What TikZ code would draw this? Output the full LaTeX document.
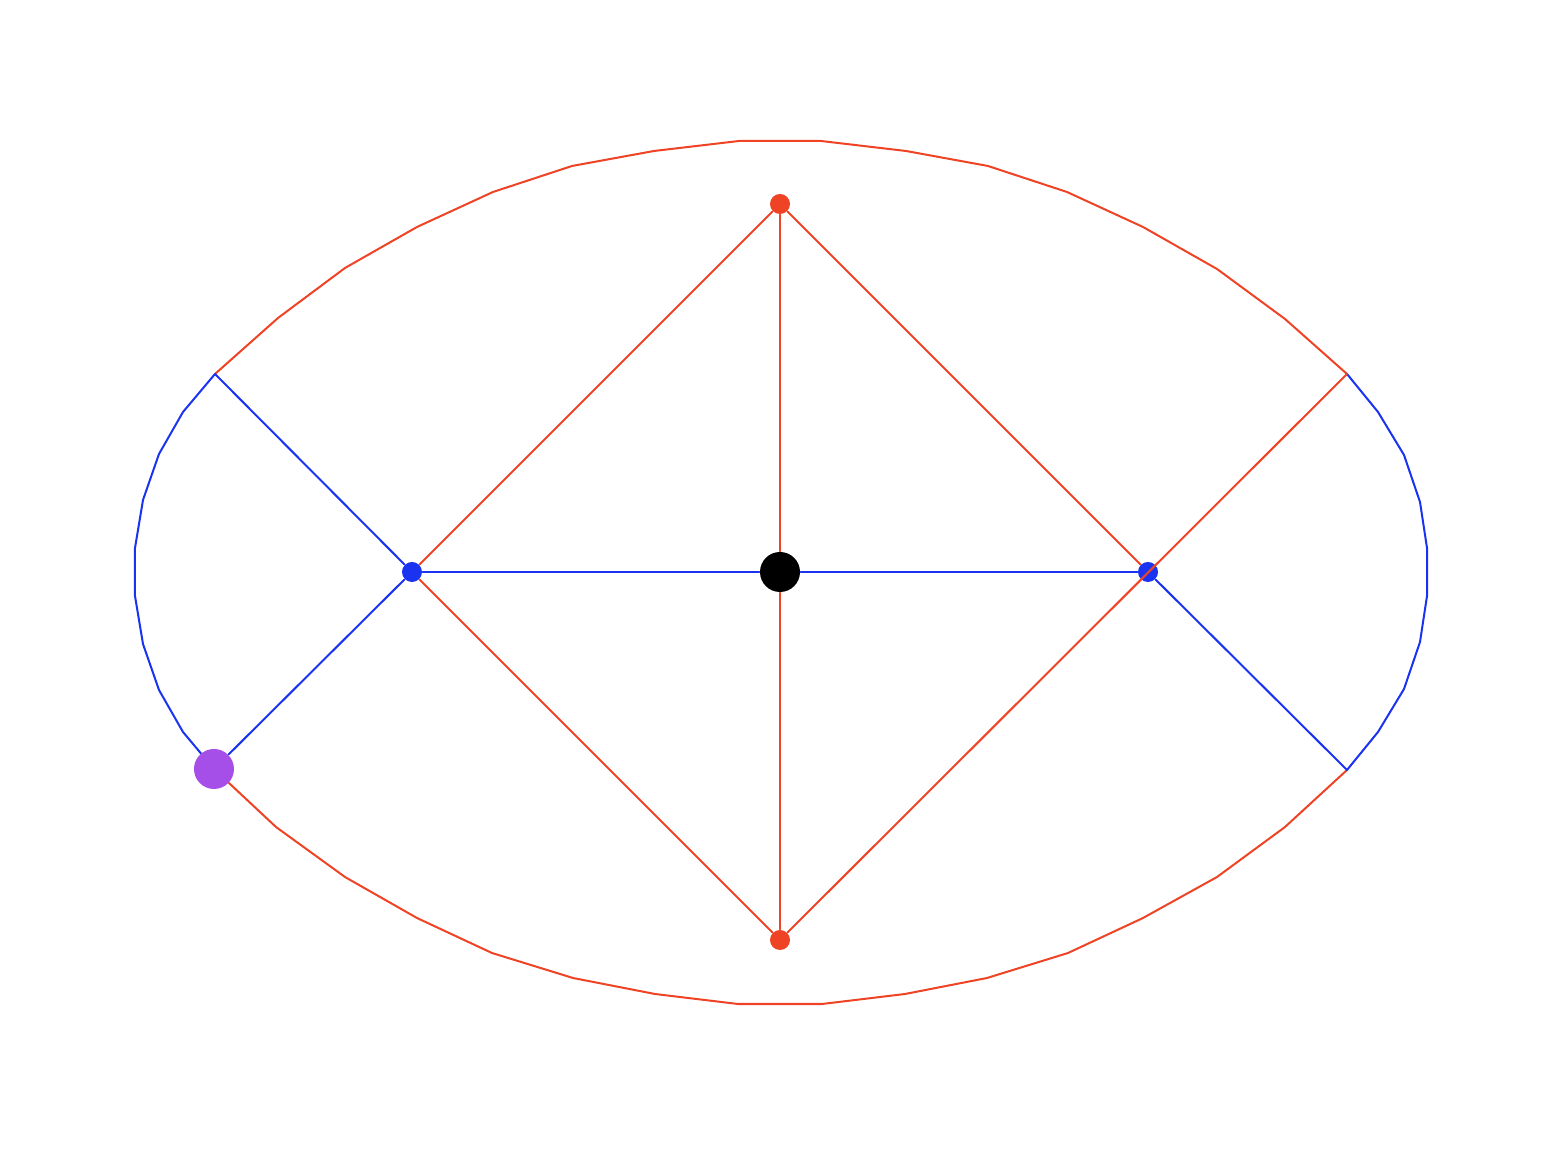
\documentclass[tikz,border=0pt]{standalone}
\usepackage{xcolor}
\usepackage{tikz}
\definecolor{edgered}{HTML}{EE4324}
\definecolor{edgeblue}{HTML}{1A33F0}
\definecolor{dotpurple}{HTML}{A64FE8}
\begin{document}
\begin{tikzpicture}[line cap=round,line join=round,x=1.0cm,y=1.0cm,
  redline/.style={color=edgered,line width=0.57pt},
  blueline/.style={color=edgeblue,line width=0.57pt},
  dot/.style={circle,inner sep=0pt,minimum size=0.2cm},
  bigdot/.style={circle,inner sep=0pt,minimum size=0.4cm}]
\useasboundingbox (-7.80,-6.04) rectangle (7.88,5.72);
% corners of the outer curve
\coordinate (tl) at (-5.65,1.98);
\coordinate (tr) at (5.67,1.98);
\coordinate (br) at (5.67,-1.98);
\node[bigdot] (p) at (-5.66,-1.97) {};
% outer curve
\draw[redline] (tl) -- (-5.02,2.54) -- (-4.35,3.04) -- (-3.63,3.45) -- (-2.87,3.80) -- (-2.08,4.06) -- (-1.26,4.21) -- (-0.41,4.31) -- (0.41,4.31) -- (1.26,4.21) -- (2.08,4.06) -- (2.87,3.80) -- (3.63,3.45) -- (4.37,3.03) -- (5.05,2.53) -- (tr);
\draw[redline] (p.center) -- (-5.04,-2.55) -- (-4.35,-3.05) -- (-3.63,-3.46) -- (-2.88,-3.81) -- (-2.07,-4.06) -- (-1.25,-4.22) -- (-0.42,-4.32) -- (0.42,-4.32) -- (1.25,-4.22) -- (2.07,-4.06) -- (2.88,-3.81) -- (3.63,-3.46) -- (4.37,-3.05) -- (5.05,-2.55) -- (br);
\draw[blueline] (tl) -- (-5.97,1.60) -- (-6.21,1.18) -- (-6.37,0.72) -- (-6.45,0.24) -- (-6.45,-0.24) -- (-6.37,-0.72) -- (-6.21,-1.18) -- (-5.97,-1.60) -- (p.center);
\draw[blueline] (tr) -- (5.98,1.60) -- (6.24,1.17) -- (6.40,0.70) -- (6.47,0.24) -- (6.47,-0.24) -- (6.40,-0.70) -- (6.24,-1.17) -- (5.98,-1.60) -- (br);
% inner graph
\node[bigdot] (c) at (0,0) {};
\node[dot] (b1) at (-3.68,0) {};
\node[dot] (b2) at (3.68,0) {};
\node[dot] (r1) at (0,3.68) {};
\node[dot] (r2) at (0,-3.68) {};
\draw[blueline] (tl) -- (b1);
\draw[blueline] (b1) -- (p);
\draw[blueline] (b1) -- (c);
\draw[blueline] (c) -- (b2);
\draw[blueline] (b2) -- (br);
\draw[redline] (b1) -- (r1);
\draw[redline] (b1) -- (r2);
\draw[redline] (r1) -- (b2);
\draw[redline] (r1) -- (c);
\draw[redline] (c) -- (r2);
\fill[edgeblue] (b1) circle (0.1);
\fill[edgeblue] (b2) circle (0.1);
\fill[edgered] (r1) circle (0.1);
\fill[edgered] (r2) circle (0.1);
\draw[redline] (r2) -- (tr);
\fill[black] (c) circle (0.2);
\fill[dotpurple] (p) circle (0.2);
\end{tikzpicture}
\end{document}
